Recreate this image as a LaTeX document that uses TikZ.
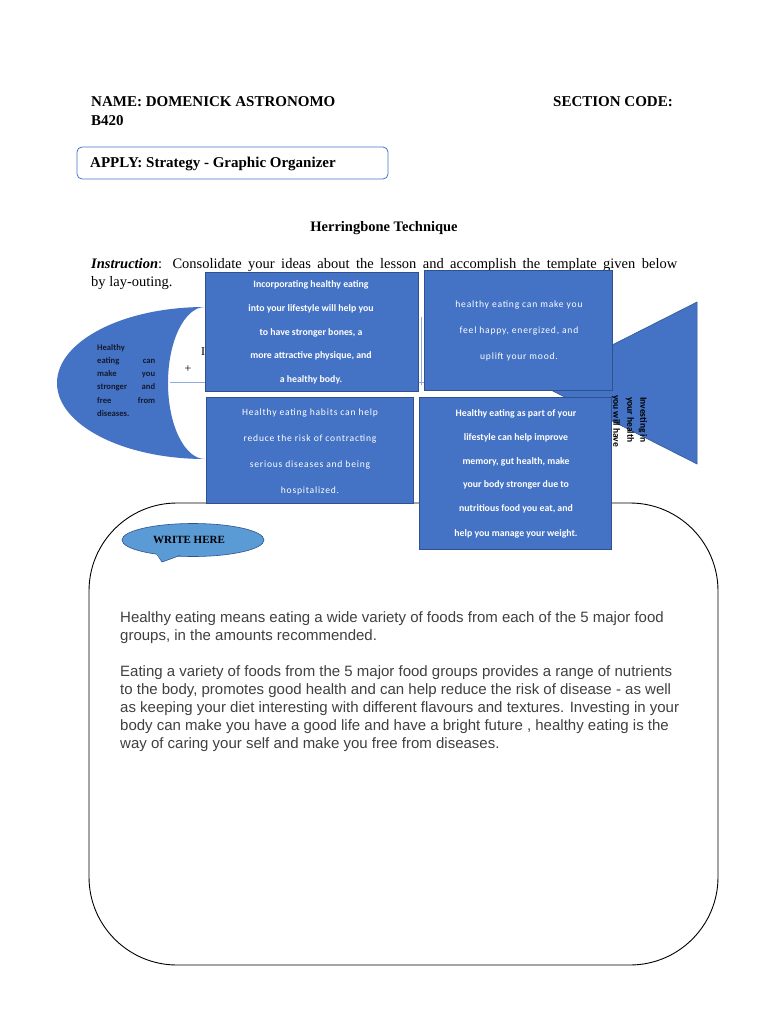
\documentclass[tikz,border=0pt]{standalone}
\usepackage{fontspec}
\setmainfont{Liberation Serif}
\newfontfamily\calfont{Carlito}
\newfontfamily\calspfont[LetterSpace=8]{Carlito}
\newfontfamily\arialfont{Liberation Sans}
\definecolor{boxblue}{HTML}{4472C4}
\definecolor{boxedge}{HTML}{2F528F}
\definecolor{callblue}{HTML}{5B9BD5}
\definecolor{spine}{HTML}{8FAADC}
\definecolor{bodytext}{HTML}{404040}
\definecolor{headtext}{HTML}{141A2E}
\begin{document}
\begin{tikzpicture}[x=1pt,y=-1pt,
  bluebox/.style={draw=boxedge,fill=boxblue,line width=0.8pt},
  boxline/.style={text=white,anchor=base,inner sep=0pt},
  boldline/.style={boxline,font=\calfont\bfseries\fontsize{9.8}{10}\selectfont},
  spaceline/.style={boxline,font=\calspfont\fontsize{9.6}{10}\selectfont},
  bodyline/.style={anchor=base west,inner sep=0pt,text=bodytext,font=\arialfont\fontsize{15}{18}\selectfont},
  headline/.style={anchor=base west,inner sep=0pt,font=\bfseries\fontsize{15}{16}\selectfont},
  tailline/.style={rotate=-90,anchor=west,inner sep=0pt,font=\calfont\bfseries\fontsize{9.5}{10}\selectfont}]
\useasboundingbox (0,0) rectangle (768,1024);
\fill[white] (0,0) rectangle (768,1024);

% header
\node[headline] (name) at (91,107) {NAME: DOMENICK ASTRONOMO};
\node[headline] (sect) at (553,107) {SECTION CODE:};
\node[headline] (code) at (91,126) {B420};
\draw[draw=boxblue,line width=0.8pt,rounded corners=5pt] (77,147) rectangle (388,179);
\node[anchor=base west,inner sep=0pt,font=\bfseries\fontsize{15}{16}\selectfont] (apply) at (90,168) {APPLY: Strategy - Graphic Organizer};
\node[anchor=base,inner sep=0pt,font=\bfseries\fontsize{14.5}{15}\selectfont] (title) at (384,232) {Herringbone Technique};
\node[anchor=base west,inner sep=0pt,font=\fontsize{14.5}{16}\selectfont] (instr1) at (91,268) {\makebox[586pt][s]{\textbf{\textit{Instruction}}: Consolidate your ideas about the lesson and accomplish the template given below}};
\node[anchor=base west,inner sep=0pt,font=\fontsize{14.5}{16}\selectfont] (instr2) at (91,286) {by lay-outing.};

% fish head
\fill[boxblue] (205,307) arc[start angle=-90,end angle=-270,x radius=148,y radius=76]
  arc[start angle=90,end angle=270,x radius=37,y radius=76] -- cycle;
\node[anchor=north west,inner sep=0pt,text=headtext,font=\calfont\bfseries\fontsize{8.6}{13.2}\selectfont,align=left] (headtxt) at (97,344)
 {\makebox[58pt][l]{Healthy}\\ \makebox[58pt][s]{eating can}\\ \makebox[58pt][s]{make you}\\ \makebox[58pt][s]{stronger and}\\ \makebox[58pt][s]{free from}\\ \makebox[58pt][l]{diseases.}};
\node[inner sep=0pt,font=\fontsize{12}{12}\selectfont] (cursor) at (203,352) {I};
\node[inner sep=0pt,font=\fontsize{12}{12}\selectfont] (plus) at (188,369) {+};

% tail
\fill[boxblue] (697,302) -- (697,464) -- (537,383) -- cycle;
\draw[boxedge,line width=0.5pt] (697,302) -- (697,464) -- (537,383) -- cycle;

% spine
\draw[spine,line width=0.8pt] (170,382) -- (540,382);
\draw[spine,line width=0.8pt] (421,317) -- (421,385);

% write-here area
\draw[black,line width=0.9pt,rounded corners=88pt] (89,503) rectangle (718,965);

% boxes
\draw[bluebox] (205,272) rectangle (418,391);
\node[boldline] (a1) at (311,287) {Incorporating healthy eating};
\node[boldline] (a2) at (311,311) {into your lifestyle will help you};
\node[boldline] (a3) at (311,335) {to have stronger bones, a};
\node[boldline] (a4) at (311,358) {more attractive physique, and};
\node[boldline] (a5) at (311,382) {a healthy body.};

\draw[bluebox] (424,270) rectangle (612,390);
\node[spaceline] (b1) at (519,307) {healthy eating can make you};
\node[spaceline] (b2) at (519,333) {feel happy, energized, and};
\node[spaceline] (b3) at (519,359) {uplift your mood.};

\draw[bluebox] (206,397) rectangle (413,503);
\node[spaceline] (c1) at (310,415) {Healthy eating habits can help};
\node[spaceline] (c2) at (310,441) {reduce the risk of contracting};
\node[spaceline] (c3) at (310,467) {serious diseases and being};
\node[spaceline] (c4) at (310,493) {hospitalized.};

\draw[bluebox] (419,397) rectangle (611,549);
\node[boldline] (d1) at (516,416) {Healthy eating as part of your};
\node[boldline] (d2) at (516,440) {lifestyle can help improve};
\node[boldline] (d3) at (516,464) {memory, gut health, make};
\node[boldline] (d4) at (516,487) {your body stronger due to};
\node[boldline] (d5) at (516,511) {nutritious food you eat, and};
\node[boldline] (d6) at (516,536) {help you manage your weight.};

% tail text
\node[tailline] (t1) at (643,397) {Investing in};
\node[tailline] (t2) at (630,397) {your health};
\node[tailline] (t3) at (616,395) {you will have};

% callout
\draw[draw=boxedge,fill=callblue,line width=0.6pt] (193,540) ellipse[x radius=71,y radius=16.5];
\draw[draw=boxedge,fill=callblue,line width=0.6pt] (156,553) -- (162,562) -- (180,555.5);
\fill[callblue] (155,552) -- (162,561) -- (181,554) -- (175,550) -- cycle;
\node[inner sep=0pt,font=\bfseries\fontsize{11}{11}\selectfont] (write) at (189,540) {WRITE HERE};

% body text
\node[bodyline] (p1) at (120,622) {Healthy eating means eating a wide variety of foods from each of the 5 major food};
\node[bodyline] (p2) at (120,640) {groups, in the amounts recommended.};
\node[bodyline] (p3) at (120,676) {Eating a variety of foods from the 5 major food groups provides a range of nutrients};
\node[bodyline] (p4) at (120,694) {to the body, promotes good health and can help reduce the risk of disease - as well};
\node[bodyline] (p5) at (120,712) {as keeping your diet interesting with different flavours and textures. Investing in your};
\node[bodyline] (p6) at (120,730) {body can make you have a good life and have a bright future , healthy eating is the};
\node[bodyline] (p7) at (120,748) {way of caring your self and make you free from diseases.};
\end{tikzpicture}
\end{document}
